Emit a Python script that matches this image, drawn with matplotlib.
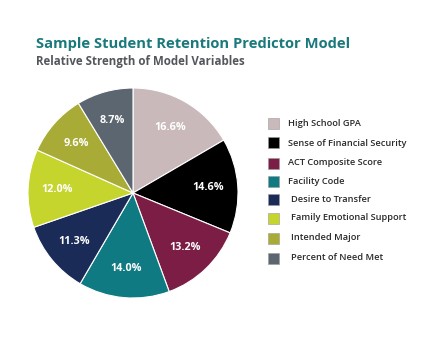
import matplotlib
matplotlib.use("Agg")
import matplotlib.pyplot as plt
from matplotlib.patches import Rectangle

categories = ["High School GPA", "Sense of Financial Security", "ACT Composite Score",
              "Facility Code", "Desire to Transfer", "Family Emotional Support",
              "Intended Major", "Percent of Need Met"]
values = [16.6, 14.6, 13.2, 14.0, 11.3, 12.0, 9.6, 8.7]
colors = ["#c9b9bb", "#000000", "#7b1d45", "#0f7a82", "#1b2b58", "#c5d52d", "#a8ab35", "#5c6670"]

W, H = 431, 337
fig = plt.figure(figsize=(W / 100, H / 100), dpi=100)
fig.patch.set_facecolor("white")

font = "Open Sans"

# Pie axes: center (133,193), radius 105 px
cx, cy, r = 133, 193, 105
ax = fig.add_axes([(cx - r) / W, 1 - (cy + r) / H, 2 * r / W, 2 * r / H])
wedges, texts, autotexts = ax.pie(
    values, colors=colors, startangle=90, counterclock=False,
    autopct=lambda p: f"{p:.1f}%", pctdistance=0.72,
    wedgeprops=dict(edgecolor="white", linewidth=0.8),
    textprops=dict(color="white", fontsize=7.8, fontweight="bold", family=font))
ax.set_xlim(-1, 1)
ax.set_ylim(-1, 1)
ax.set_aspect("equal")
ax.axis("off")

# Titles
fig.text(36 / W, 1 - 44 / H, "Sample Student Retention Predictor Model", color="#1a7a7b",
         fontsize=10.6, fontweight="bold", family=font, va="center", ha="left")
fig.text(36 / W, 1 - 62 / H, "Relative Strength of Model Variables", color="#53575c",
         fontsize=8.3, fontweight="bold", family=font, va="center", ha="left")

# Legend
row_y = [123, 143, 163, 182, 199, 218, 238, 258]
text_x = [288, 288, 288, 288, 291, 291, 291, 291]
sq = 11
for name, col, y, tx in zip(categories, colors, row_y, text_x):
    fig.patches.append(Rectangle(((268) / W, 1 - (y + sq / 2) / H), sq / W, sq / H,
                                 transform=fig.transFigure, facecolor=col,
                                 edgecolor="#9a9a9a", linewidth=0.4))
    fig.text(tx / W, 1 - y / H, name, color="#2a2a2a", fontsize=6.7, fontweight="semibold",
             family=font, va="center", ha="left")

fig.savefig("out.png", dpi=100, facecolor="white")
